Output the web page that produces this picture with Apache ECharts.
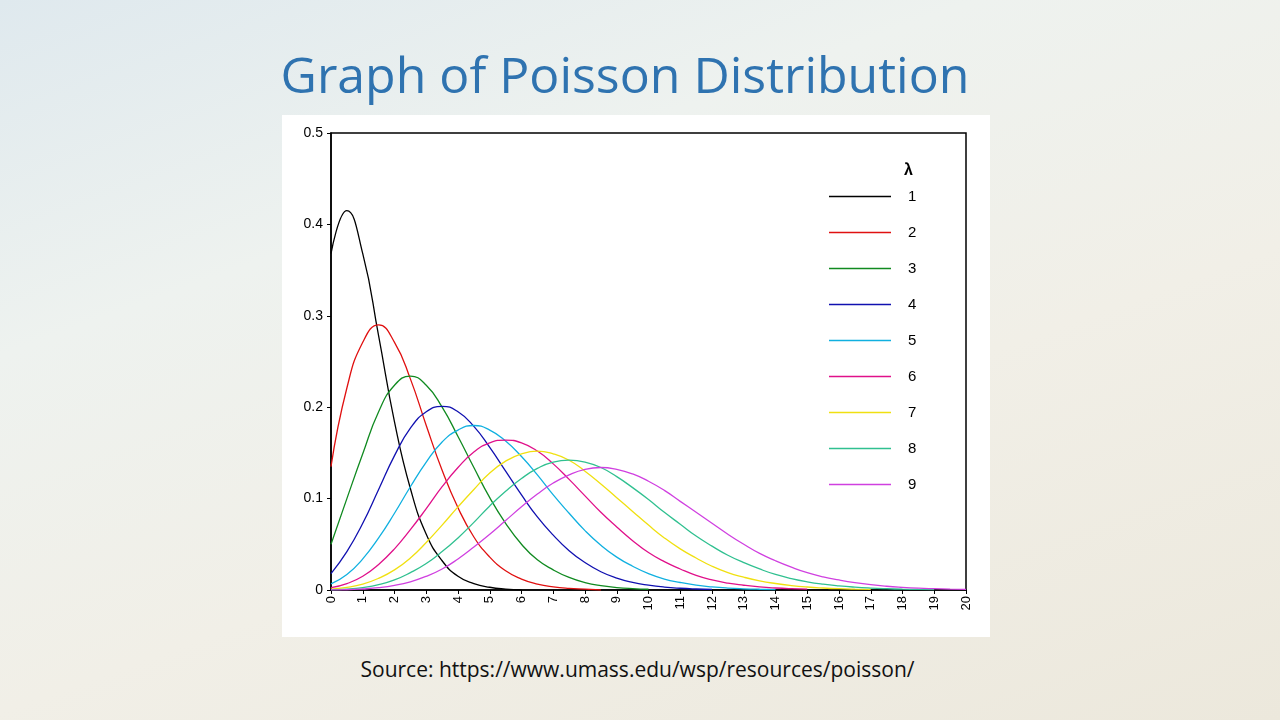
<!DOCTYPE html>
<html><head><meta charset="utf-8">
<script src="https://cdn.jsdelivr.net/npm/echarts@6/dist/echarts.min.js"></script>
<style>
html,body{margin:0;padding:0;width:1280px;height:720px;overflow:hidden;
background:linear-gradient(160deg,#dfe9ee 0%,#eef2ef 30%,#f1efe7 60%,#ece8dc 100%);font-family:"Liberation Sans",Arial,sans-serif;}
#title{position:absolute;left:-10px;width:1270px;top:40px;text-align:center;font-family:"Open Sans",sans-serif;font-size:50px;color:#2f73b0;}
#box{position:absolute;left:282px;top:115px;width:708px;height:522px;background:#fff;}
#chart{position:absolute;left:282px;top:115px;width:708px;height:522px;}
#src{position:absolute;left:0;width:1275px;top:655px;text-align:center;font-family:"Open Sans",sans-serif;font-size:21px;color:#111;}
</style></head><body>
<div id="title">Graph of Poisson Distribution</div>
<div id="box"></div>
<div id="chart"></div>
<div id="src">Source: https://www.umass.edu/wsp/resources/poisson/</div>
<script>
// values sampled every 0.5 on x, starting at x = 0
const lambdas = ['1','2','3','4','5','6','7','8','9'];
const s1 = [.368,.415,.368,.278,.184,.111,.061,.032,.015,.007,.003,.001,0];
const s2 = [.135,.221,.271,.290,.271,.231,.180,.131,.090,.058,.036,.021,.012,.0065,.0034,.0017,.0009,0];
const s3 = [.050,.100,.149,.195,.224,.234,.224,.200,.168,.134,.101,.073,.050,.033,.022,.0137,.0081,.0047,.0027,.0015,.0008];
const s4 = [.018,.042,.073,.110,.147,.177,.195,.201,.195,.179,.156,.130,.104,.080,.060,.043,.030,.020,.013,.0083,.0053,.0032,.0019,.0011,.0006];
const s5 = [.0067,.017,.034,.057,.084,.113,.140,.162,.175,.180,.175,.163,.146,.126,.104,.084,.065,.049,.036,.026,.018,.012,.0082,.0053,.0034,.0021,.0013,.0008,.0005];
const s6 = [.0025,.007,.015,.028,.045,.066,.089,.113,.134,.151,.161,.164,.161,.152,.138,.121,.103,.085,.069,.054,.041,.031,.023,.016,.011,.0075,.0052,.0034,.0022,.0014,.0009];
const s7 = [.0009,.0028,.0064,.0128,.022,.035,.052,.071,.091,.110,.128,.141,.149,.152,.149,.142,.130,.116,.101,.086,.071,.057,.045,.035,.026,.019,.014,.010,.0071,.0049,.0033,.0022,.0014,.0009,.0006];
const s8 = [.0003,.001,.0027,.0058,.011,.019,.029,.042,.057,.074,.092,.108,.122,.133,.140,.142,.140,.134,.124,.112,.099,.085,.072,.059,.048,.038,.030,.023,.017,.0125,.009,.0064,.0045,.0031,.0021,.0014,.0009,.0006,.0004];
const s9 = [.0001,.0003,.0011,.0025,.005,.009,.015,.023,.034,.047,.061,.076,.091,.105,.117,.126,.132,.134,.132,.127,.119,.109,.097,.085,.073,.061,.050,.040,.032,.025,.019,.0144,.011,.0081,.0058,.0041,.0029,.0020,.0014,.0009,.0006];
const allSeries = [s1,s2,s3,s4,s5,s6,s7,s8,s9];
const colors = ['#000000','#e01010','#108a20','#1010b0','#10b0e0','#e0108a','#f0e010','#30c090','#d040e0'];
const STEP = 0.5;

const chart = echarts.init(document.getElementById('chart'));
chart.setOption({
  animation:false,
  color:colors,
  grid:{left:49,top:18,right:24,bottom:47,show:true,borderColor:'#000',borderWidth:1.5},
  title:{text:'λ',left:617,top:43,textStyle:{fontSize:16,fontWeight:'bold',color:'#000'}},
  legend:{orient:'vertical',left:542,top:69,itemWidth:62,itemHeight:14,itemGap:21,
    icon:'path://M0,6 L62,6 L62,7.5 L0,7.5 Z',
    textStyle:{fontSize:15,color:'#000',padding:[0,0,0,12]},data:lambdas},
  xAxis:{type:'value',min:0,max:20,interval:1,splitLine:{show:false},
    axisLine:{lineStyle:{color:'#000',width:1.5}},axisTick:{length:4,lineStyle:{color:'#000'}},
    axisLabel:{rotate:90,color:'#000',fontSize:13,margin:6}},
  yAxis:{type:'value',min:0,max:0.5,interval:0.1,splitLine:{show:false},
    axisLine:{show:true,lineStyle:{color:'#000',width:1.5}},axisTick:{show:true,length:4,lineStyle:{color:'#000'}},
    axisLabel:{color:'#000',fontSize:14,formatter:v=>v===0?'0':String(+v.toFixed(1))}},
  series:allSeries.map((arr,i)=>({
    name:lambdas[i],type:'line',smooth:true,showSymbol:false,symbol:'none',
    lineStyle:{width:1.3,color:colors[i]},
    data:arr.map((v,j)=>[j*STEP,v])
  }))
});
</script>
</body></html>
